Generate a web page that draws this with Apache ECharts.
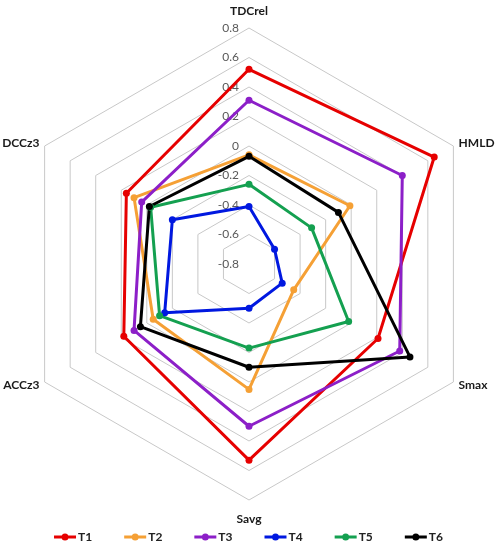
<!DOCTYPE html>
<html>
<head>
<meta charset="utf-8">
<script src="https://cdn.jsdelivr.net/npm/echarts@6/dist/echarts.min.js"></script>
<style>
  html, body { margin: 0; padding: 0; background: #fff; }
  #chart { width: 497px; height: 550px; }
</style>
</head>
<body>
<div id="chart"></div>
<script>
// axes, clockwise from the top as in the picture
const categories = ['TDCrel', 'HMLD', 'Smax', 'Savg', 'ACCz3', 'DCCz3']
const seriesNames = ['T1', 'T2', 'T3', 'T4', 'T5', 'T6']
const T1 = [0.52, 0.65, 0.21, 0.53, 0.18, 0.16]
const T2 = [-0.06, -0.01, -0.45, 0.05, -0.05, 0.10]
const T3 = [0.31, 0.40, 0.38, 0.30, 0.10, 0.04]
const T4 = [-0.41, -0.60, -0.54, -0.50, -0.14, -0.20]
const T5 = [-0.26, -0.31, -0.02, -0.23, -0.10, -0.03]
const T6 = [-0.07, -0.10, 0.46, -0.10, 0.05, -0.02]
const axisMin = -0.8
const axisMax = 0.8
const tickStep = 0.2

const colors = ['#e60000', '#f5a035', '#8c1fc8', '#0018e0', '#14a050', '#000000']
const allValues = [T1, T2, T3, T4, T5, T6]

// echarts lays indicators counterclockwise, so keep the first and reverse the rest
const order = [0, 5, 4, 3, 2, 1]
const reorder = arr => order.map(i => arr[i])

const legendIcon = 'path://M0,2.5H22V5.5H0Z M14.5,4A3.5,3.5 0 1 1 7.5,4A3.5,3.5 0 1 1 14.5,4Z'

const chart = echarts.init(document.getElementById('chart'))

const indicator = reorder(categories).map((name, i) => {
  const item = { name: name, min: axisMin, max: axisMax }
  // top and bottom names sit a bit further out
  if (name === 'TDCrel') item.nameGap = 11
  if (name === 'Savg') item.nameGap = 13
  if (i === 0) {
    // tick labels only on the top axis
    item.axisLabel = {
      show: true,
      color: '#595959',
      fontSize: 12,
      fontFamily: 'Lato',
      margin: 10,
      formatter: v => String(Math.round(v * 10) / 10)
    }
  }
  return item
})

chart.setOption({
  animation: false,
  legend: {
    bottom: 2,
    left: 'center',
    itemWidth: 22,
    itemHeight: 8,
    itemGap: 32,
    icon: legendIcon,
    textStyle: { fontFamily: 'Lato', fontWeight: 'bold', fontSize: 12, color: '#222', padding: [0, 0, 0, -3] },
    data: seriesNames
  },
  radar: {
    center: [249, 264],
    radius: 236,
    startAngle: 90,
    splitNumber: Math.round((axisMax - axisMin) / tickStep),
    shape: 'polygon',
    indicator: indicator,
    axisName: {
      color: '#1a1a1a',
      fontFamily: 'Lato',
      fontWeight: 'bold',
      fontSize: 12
    },
    nameGap: 6,
    axisLine: { show: false },
    axisTick: { show: false },
    axisLabel: { show: false },
    splitLine: { lineStyle: { color: '#c8c8c8', width: 1 } },
    splitArea: { show: false }
  },
  series: [{
    type: 'radar',
    symbol: 'circle',
    symbolSize: 7,
    data: allValues.map((vals, i) => ({
      name: seriesNames[i],
      value: reorder(vals),
      lineStyle: { color: colors[i], width: 3 },
      itemStyle: { color: colors[i] }
    }))
  }]
})
</script>
</body>
</html>
